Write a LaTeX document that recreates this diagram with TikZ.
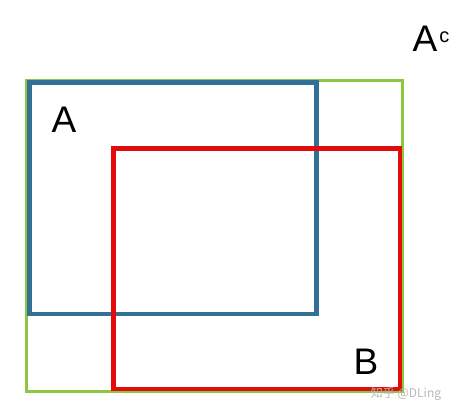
\documentclass[tikz,border=0pt]{standalone}
\usepackage{fontspec}
\setmainfont{Liberation Sans}
\newfontfamily\cjkfont{Noto Sans CJK SC}
\definecolor{setgreen}{RGB}{141,198,63}
\definecolor{setblue}{RGB}{50,112,150}
\definecolor{setred}{RGB}{226,12,12}
\begin{document}
\begin{tikzpicture}[x=1pt,y=-1pt,
        universe/.style={draw=setgreen,line width=3pt},
        set A/.style={draw=setblue,line width=4.5pt},
        set B/.style={draw=setred,line width=4.5pt},
        set label/.style={font=\fontsize{37}{37}\selectfont,inner sep=0pt}]
    \useasboundingbox[fill=white] (0,0) rectangle (460,414);
    \draw[universe] (26.5,80.5) rectangle (402,391.5);
    \draw[set A] (29.5,82.5) rectangle (316.5,314);
    \draw[set B] (113.5,148.5) rectangle (400,389);
    \node[set label] (labelA) at (64,120) {A};
    \node[set label] (labelB) at (366,361.5) {B};
    \node[set label,anchor=north west] (labelAc) at (412.5,26) {A};
    \node[font=\fontsize{20}{20}\selectfont,inner sep=0pt,anchor=base west] (labelc) at ([xshift=1.5pt,yshift=9pt]labelAc.base east) {c};
    \node[font=\cjkfont\fontsize{12}{12}\selectfont,text=gray!55,inner sep=0pt] (mark) at (406,393.5) {知乎 @DLing};
\end{tikzpicture}
\end{document}
